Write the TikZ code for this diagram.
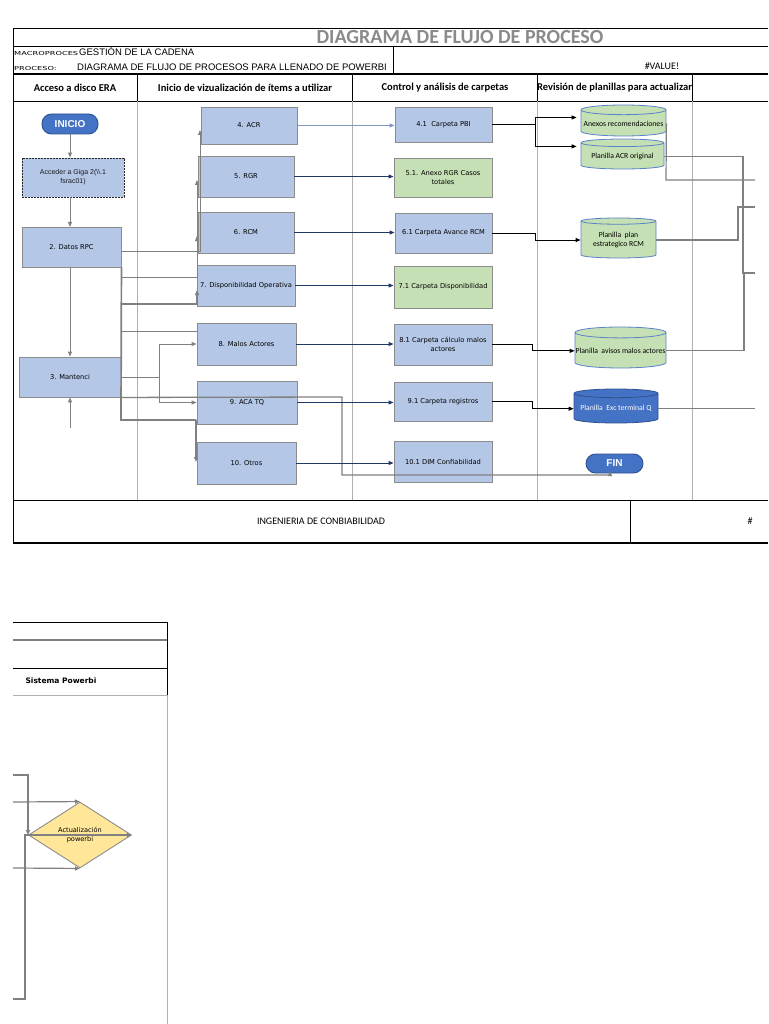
\documentclass[tikz,border=0pt]{standalone}
\usepackage{fontspec}
\setmainfont{DejaVu Sans}
\newfontfamily\calib{Carlito}
\newfontfamily\arialf{Liberation Sans}
\usetikzlibrary{arrows.meta,calc,shapes.geometric}

\definecolor{boxblue}{HTML}{B4C7E7}
\definecolor{boxgreen}{HTML}{C5E0B4}
\definecolor{termblue}{HTML}{4472C4}
\definecolor{termedge}{HTML}{2F528F}
\definecolor{navy}{HTML}{203864}
\definecolor{navylight}{HTML}{8297C0}
\definecolor{linegray}{HTML}{808080}
\definecolor{gridgray}{HTML}{B0B0B0}
\definecolor{boxedge}{HTML}{8C8C8C}
\definecolor{dbedge}{HTML}{5B82C8}
\definecolor{diafill}{HTML}{FFE699}
\definecolor{titlegray}{HTML}{8A8A8A}

\tikzset{
  proc/.style={draw=boxedge, fill=boxblue, line width=0.9pt, align=center,
    inner sep=1pt, font=\fontsize{6.7}{8.5}\selectfont},
  procg/.style={proc, fill=boxgreen},
  term/.style={draw=termedge, fill=termblue, rounded corners=9.5pt, line width=0.9pt,
    text=white, font=\arialf\bfseries\fontsize{10}{11}\selectfont},
  db/.style={cylinder, shape border rotate=90, aspect=0.12, anchor=shape center, draw=dbedge, fill=boxgreen,
    line width=0.8pt, align=center, inner sep=0.5pt, font=\calib\fontsize{7.7}{8.7}\selectfont},
  conn/.style={draw=linegray, line width=0.9pt},
  connh/.style={draw=linegray, line width=1.7pt},
  tip/.style={-{Triangle[length=5pt,width=4pt]}},
  navyarr/.style={draw=navy, line width=0.9pt, -{Triangle[length=5pt,width=4pt]}},
  blackarr/.style={draw=black, line width=0.9pt, -{Triangle[length=5pt,width=4pt]}},
  head/.style={font=\calib\bfseries\fontsize{10.5}{12}\selectfont},
  lane/.style={draw=gridgray, line width=0.6pt},
  frame/.style={draw=black, line width=0.8pt},
}

\begin{document}
\begin{tikzpicture}[x=1pt,y=-1pt]
  \useasboundingbox (0,0) rectangle (768,1024);
  \fill[white] (0,0) rectangle (768,1024);
  % frame of the sheet
  \draw[frame] (13,28) -- (768,28);
  \draw[frame] (13,28) -- (13,543);
  \draw[frame] (13,46) -- (768,46);
  \draw[frame] (393,46) -- (393,74);
  \draw[frame,line width=1.2pt] (13,74) -- (768,74);
  \draw[frame] (13,101) -- (768,101);
  \foreach \xx in {137,352,537,692}{
    \draw[frame] (\xx,74) -- (\xx,101);
    \draw[lane] (\xx,101) -- (\xx,500);
  }
  \draw[frame,line width=1pt] (13,500) -- (768,500);
  \draw[frame,line width=1.4pt] (13,543) -- (768,543);
  \draw[frame] (630,500) -- (630,543);
  % header texts
  \node[text=titlegray,font=\calib\bfseries\fontsize{20}{22}\selectfont] (title) at (460,37) {DIAGRAMA DE FLUJO DE PROCESO};
  \node[anchor=base west,inner sep=0pt] (macro) at (14,56)
       {\scalebox{1.5}[1]{\fontsize{5.5}{6}\selectfont MACROPROCES}};
  \node[anchor=base west,inner sep=0pt,font=\arialf\fontsize{9.5}{10}\selectfont] (cadena) at (79,56) {GESTIÓN DE LA CADENA};
  \node[anchor=base west,inner sep=0pt] (proceso) at (14,71)
       {\scalebox{1.5}[1]{\fontsize{5.5}{6}\selectfont PROCESO:}};
  \node[anchor=base west,inner sep=0pt,font=\arialf\fontsize{9.5}{10}\selectfont] (nombre) at (77,71) {DIAGRAMA DE FLUJO DE PROCESOS PARA LLENADO DE POWERBI};
  \node[font=\calib\fontsize{10}{11}\selectfont] (value) at (662,66) {\#VALUE!};
  \node[head] (h1) at (75,88) {Acceso a disco ERA};
  \node[head] (h2) at (245,88) {Inicio de vizualización de ítems a utilizar};
  \node[head] (h3) at (445,88) {Control y análisis de carpetas};
  \begin{scope}
    \clip (538,75) rectangle (691,100);
    \node[head] (h4) at (614.5,88) {Revisión de planillas para actualizar};
  \end{scope}
  \node[font=\calib\fontsize{10}{11}\selectfont] (ing) at (321,521) {INGENIERIA DE CONBIABILIDAD};
  \node[font=\calib\fontsize{10}{11}\selectfont] (hash) at (750,521) {\#};

  % column 1
  \node[term, minimum width=56pt, minimum height=20pt] (inicio) at (70,124) {INICIO};
  \node[proc, draw=black!85, dashed, dash pattern=on 2pt off 1pt, minimum width=102pt, minimum height=39pt,
        font=\arialf\fontsize{7}{9}\selectfont, text=black!90] (giga) at (73,177.5) {Acceder a Giga 2(\textbackslash\textbackslash.1\\fsrac01)};
  \node[proc, minimum width=99pt, minimum height=40pt] (rpc) at (71.5,247) {2. Datos RPC};
  \node[proc, minimum width=102pt, minimum height=40pt] (mant) at (70,377) {3. Mantenci};
  % column 2
  \node[proc, minimum width=96pt, minimum height=37pt] (acr) at (249,125.5) {4. ACR};
  \node[proc, minimum width=96pt, minimum height=41pt] (rgr) at (246,176.5) {5. RGR};
  \node[proc, minimum width=96pt, minimum height=41pt] (rcm) at (246,232.5) {6. RCM};
  \node[proc, minimum width=98pt, minimum height=41pt] (disp) at (246,285.5) {7. Disponibilidad Operativa};
  \node[proc, minimum width=99pt, minimum height=42pt] (malos) at (246.5,344) {8. Malos Actores};
  \node[proc, minimum width=100pt, minimum height=43pt] (aca) at (247,402.5) {9. ACA TQ};
  \node[proc, minimum width=99pt, minimum height=42pt] (otros) at (246.5,463) {10. Otros};
  % column 3
  \node[proc, minimum width=97pt, minimum height=35pt] (pbi) at (443.5,124.5) {4.1\ \ Carpeta PBI};
  \node[procg, minimum width=98pt, minimum height=39pt] (anexo) at (443,177.5) {5.1. Anexo RGR Casos\\totales};
  \node[proc, minimum width=97pt, minimum height=40pt] (avance) at (443.5,233) {6.1 Carpeta Avance RCM};
  \node[procg, minimum width=98pt, minimum height=42pt] (cdisp) at (443,287) {7.1 Carpeta Disponibilidad};
  \node[proc, minimum width=98pt, minimum height=41pt] (calc) at (443,344.5) {8.1 Carpeta cálculo malos\\actores};
  \node[proc, minimum width=98pt, minimum height=39pt] (reg) at (443,401.5) {9.1 Carpeta registros};
  \node[proc, minimum width=98pt, minimum height=41pt] (dim) at (443,461.5) {10.1 DIM Confiabilidad};
  % column 4
  \node[db, minimum width=85pt, minimum height=31pt] (anx) at (623.5,120.5) {Anexos recomendaciones};
  \node[db, minimum width=83pt, minimum height=30pt] (acro) at (622.5,154) {Planilla ACR original};
  \node[db, minimum width=75pt, minimum height=40pt] (plan) at (618.5,238) {Planilla\ \ plan\\estrategico RCM};
  \node[db, minimum width=91pt, minimum height=41pt] (avisos) at (620.5,347.5) {Planilla\ \ avisos malos actores};
  \node[db, fill=termblue, draw=termedge, text=white, minimum width=84pt, minimum height=34pt] (exc) at (616,406) {Planilla\ \ Exc terminal Q};
  \node[term, minimum width=57pt, minimum height=19pt] (fin) at (614.5,463.5) {FIN};

  % column 1 flow
  \draw[conn,tip] (inicio.south) -- (inicio.south |- giga.north);
  \draw[conn,tip] (giga.south -| rpc.north) ++(-1.5,0) -- (70,227);
  \draw[conn,tip] (rpc.south -| mant.north) -- (mant.north);
  \coordinate (loop) at (70,428);
  \draw[conn,tip] (loop) -- (mant.south);
  % from Datos RPC to column 2
  \draw[conn,tip] ($(rpc.east)+(0,4)$) -- (200,251) -- (200,130);
  \draw[conn,tip] (121,277) -- (197,277) -- (197,236);
  \draw[conn,tip] (197,277) -- (197,180);
  \draw[conn] (121,331) -- (malos.west |- 0,331);
  \draw[connh,tip] (121,304) -- (197,304) -- (197,290);
  \draw[connh] (rpc.south east) -- (121,420) -- (196,420);
  \draw[connh,tip] (196,420) -- (196,462);
  % from Mantenci
  \draw[conn,tip] (mant.east) -- (159,377) |- (malos.west);
  \draw[conn,tip] (159,377) |- (aca.west);
  \draw[conn,line width=1.3pt,tip] (mant.south east) -- (342,397) -- (342,475) -- (610,475) -- (610,471);
  % column 2 to column 3
  \draw[navyarr,draw=navylight] (acr.east) -- (acr.east -| pbi.west);
  \draw[navyarr] (rgr.east) -- (rgr.east -| anexo.west);
  \draw[navyarr] (rcm.east) -- (rcm.east -| avance.west);
  \draw[navyarr] (disp.east) -- (disp.east -| cdisp.west);
  \draw[navyarr] (malos.east) -- (malos.east -| calc.west);
  \draw[navyarr] (aca.east) -- (aca.east -| reg.west);
  \draw[navyarr] (otros.east) -- (otros.east -| dim.west);
  % column 3 to column 4
  \draw[blackarr] (pbi.east) -- (535,124.5) |- ($(anx.west)+(-4,-6)$);
  \draw[blackarr] (535,124.5) |- ($(acro.west)+(-4,-10)$);
  \draw[blackarr] (avance.east) -- (535,233) |- (plan.west);
  \draw[blackarr] (calc.east) -- (532,344.5) |- (avisos.west);
  \draw[blackarr] (reg.east) -- (532,401.5) |- (exc.west);
  % column 4 onwards
  \draw[conn,line width=1.2pt] (anx.east) -- (666,180) -- (755,180);
  \draw[conn,line width=1.2pt] (acro.east) -| (743,273) -- (755,273);
  \draw[conn,line width=1.2pt] (avisos.east) -| (744,273);
  \draw[conn,line width=1.2pt] (plan.east) -| (738,207) -- (755,207);
  \draw[conn,line width=1.2pt] (exc.east) -- +(97,0);

  % second sheet: Sistema Powerbi
  \draw[frame] (13,622) -- (167,622);
  \draw[linegray,line width=1.5pt] (13,640) -- (167,640);
  \draw[frame] (13,668) -- (167,668);
  \draw[lane] (13,695) -- (167,695);
  \draw[frame] (167,622) -- (167,695);
  \draw[lane] (167,695) -- (167,1024);
  \node[anchor=west,font=\bfseries\fontsize{7.5}{9}\selectfont] (pbihead) at (22,681) {Sistema Powerbi};
  \node[diamond, draw=boxedge, fill=diafill, line width=0.9pt, minimum width=103pt, minimum height=66pt,
        inner sep=0pt, align=center, font=\fontsize{6.6}{8.5}\selectfont] (upd) at (80,835) {Actualización\\powerbi};
  \draw[conn,line width=1.2pt,tip] (13,775) -| (upd.west);
  \draw[conn,line width=1.2pt,tip] (13,802) -- (upd.north);
  \draw[conn,line width=1.2pt,tip] (13,868) -- (upd.south);
  \draw[conn,line width=1.2pt,tip] (13,999) -- (25,999) -- (25,835) -- (upd.east);
\end{tikzpicture}
\end{document}
